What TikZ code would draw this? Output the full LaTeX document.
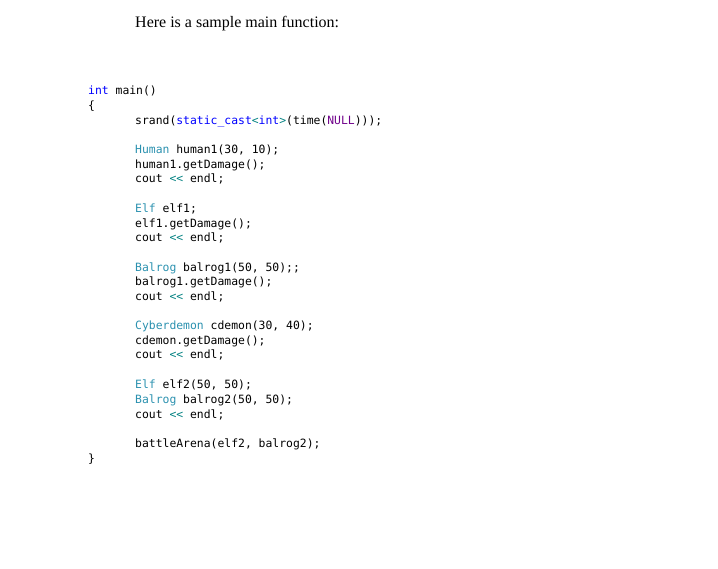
\documentclass[tikz,border=0pt]{standalone}
\usepackage{fontspec}
\setmainfont{Liberation Serif}
\setmonofont{DejaVu Sans Mono}
\definecolor{kw}{RGB}{0,0,255}
\definecolor{ty}{RGB}{43,145,175}
\definecolor{op}{RGB}{0,128,128}
\definecolor{mac}{RGB}{111,0,138}
\newcommand{\K}[1]{\textcolor{kw}{#1}}
\newcommand{\T}[1]{\textcolor{ty}{#1}}
\newcommand{\Op}[1]{\textcolor{op}{#1}}
\newcommand{\M}[1]{\textcolor{mac}{#1}}
\begin{document}
\begin{tikzpicture}[x=1pt,y=-1pt,
  code/.style={anchor=base west,inner sep=0pt,font=\fontsize{11.4}{13}\ttfamily}]
\useasboundingbox (0,0) rectangle (718,569);
\node[anchor=base west,inner sep=0pt,font=\fontsize{16}{19}\selectfont] (hd) at (135,28) {Here is a sample main function:};
\node[code] (l1) at (88,95) {\K{int} main()};
\node[code] (l2) at (88,110) {\{};
\node[code] (l3) at (135,125) {srand(\K{static\_cast}\Op{<}\K{int}\Op{>}(time(\M{NULL})));};
\node[code] (l4) at (135,154) {\T{Human} human1(30, 10);};
\node[code] (l5) at (135,169) {human1.getDamage();};
\node[code] (l6) at (135,183) {cout \Op{<<} endl;};
\node[code] (l7) at (135,213) {\T{Elf} elf1;};
\node[code] (l8) at (135,228) {elf1.getDamage();};
\node[code] (l9) at (135,242) {cout \Op{<<} endl;};
\node[code] (l10) at (135,272) {\T{Balrog} balrog1(50, 50);;};
\node[code] (l11) at (135,286) {balrog1.getDamage();};
\node[code] (l12) at (135,301) {cout \Op{<<} endl;};
\node[code] (l13) at (135,330) {\T{Cyberdemon} cdemon(30, 40);};
\node[code] (l14) at (135,345) {cdemon.getDamage();};
\node[code] (l15) at (135,359) {cout \Op{<<} endl;};
\node[code] (l16) at (135,389) {\T{Elf} elf2(50, 50);};
\node[code] (l17) at (135,403) {\T{Balrog} balrog2(50, 50);};
\node[code] (l18) at (135,418) {cout \Op{<<} endl;};
\node[code] (l19) at (135,447) {battleArena(elf2, balrog2);};
\node[code] (l20) at (88,462) {\}};
\end{tikzpicture}
\end{document}
